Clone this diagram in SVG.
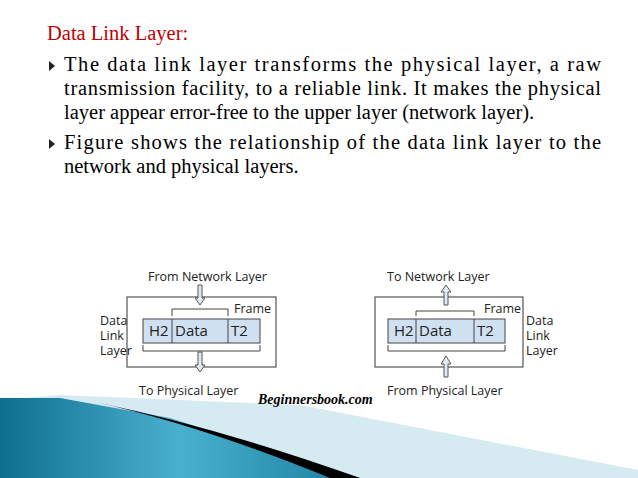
<svg xmlns="http://www.w3.org/2000/svg" width="638" height="478" viewBox="0 0 638 478">
<defs>
<style>
.t{font-family:"Liberation Serif",serif;font-size:20.5px;fill:#000}
.d{font-family:"Open Sans",sans-serif;font-size:12.5px;fill:#222}
.s{font-family:"Open Sans",sans-serif;font-size:15px;fill:#222}
.box{fill:none;stroke:#555;stroke-width:1.2}
.strip{fill:#cfe1f1;stroke:#444;stroke-width:1}
.br{fill:none;stroke:#444;stroke-width:1}
.ar{fill:#dfeaf5;stroke:#555;stroke-width:1}
</style>
<linearGradient id="g" x1="0" y1="0" x2="1" y2="0"><stop offset="0" stop-color="#0f6f8f"/><stop offset="0.5" stop-color="#4ab0cf"/><stop offset="1" stop-color="#1a7fa0"/></linearGradient>
</defs>
<rect width="638" height="478" fill="#fff"/>
<polygon points="0,400 0,478 638,478 638,470 300,405 60,395" fill="#d6eaf2"/>
<polygon points="0,398 0,478 360,478 170,418 60,398" fill="url(#g)"/>
<path d="M95,402 Q200,425 330,478 L360,478 Q220,428 95,402 Z" fill="#000"/>
<text class="t" x="47" y="40" style="fill:#c00000">Data Link Layer:</text>
<polygon points="49,61 49,71 55,66" fill="#222"/>
<polygon points="49,139 49,149 55,144" fill="#222"/>
<text class="t" x="64" y="71" textLength="537" lengthAdjust="spacing">The data link layer transforms the physical layer, a raw</text>
<text class="t" x="64" y="95" textLength="537" lengthAdjust="spacing">transmission facility, to a reliable link. It makes the physical</text>
<text class="t" x="64" y="119">layer appear error-free to the upper layer (network layer).</text>
<text class="t" x="64" y="149" textLength="537" lengthAdjust="spacing">Figure shows the relationship of the data link layer to the</text>
<text class="t" x="64" y="173">network and physical layers.</text>
<g id="left">
<text class="d" x="148" y="281">From Network Layer</text>
<rect class="box" x="127" y="297" width="149" height="70"/>
<path class="br" d="M172,316 V309 H228 V316"/>
<text class="d" x="234" y="313">Frame</text>
<rect class="strip" x="143" y="319" width="117" height="24"/>
<path class="br" d="M172,319 V343 M228,319 V343 M143,345 V351 H260 V345"/>
<text class="s" x="149" y="336">H2</text><text class="s" x="175" y="336">Data</text><text class="s" x="231" y="336">T2</text>
<text class="d" x="100" y="325">Data</text><text class="d" x="100" y="340">Link</text><text class="d" x="100" y="355">Layer</text>
<path class="ar" d="M198,285 H202 V298 H205 L200,305 L195,298 H198 Z"/>
<path class="ar" d="M198,352 H202 V365 H205 L200,372 L195,365 H198 Z"/>
<text class="d" x="139" y="395">To Physical Layer</text>
<text x="258" y="404" font-family="Liberation Serif" font-style="italic" font-weight="bold" font-size="14">Beginnersbook.com</text>
</g>
<g id="right">
<text class="d" x="387" y="281">To Network Layer</text>
<rect class="box" x="375" y="297" width="148" height="70"/>
<path class="br" d="M416,316 V311 H474 V316"/>
<text class="d" x="484" y="313">Frame</text>
<rect class="strip" x="388" y="319" width="117" height="24"/>
<path class="br" d="M416,319 V343 M474,319 V343 M388,345 V351 H505 V345"/>
<text class="s" x="394" y="336">H2</text><text class="s" x="419" y="336">Data</text><text class="s" x="477" y="336">T2</text>
<text class="d" x="526" y="325">Data</text><text class="d" x="526" y="340">Link</text><text class="d" x="526" y="355">Layer</text>
<path class="ar" d="M444,305 H448 V292 H451 L446,285 L441,292 H444 Z"/>
<path class="ar" d="M444,377 H448 V364 H451 L446,356 L441,364 H444 Z"/>
<text class="d" x="387" y="395">From Physical Layer</text>
</g>
</svg>
